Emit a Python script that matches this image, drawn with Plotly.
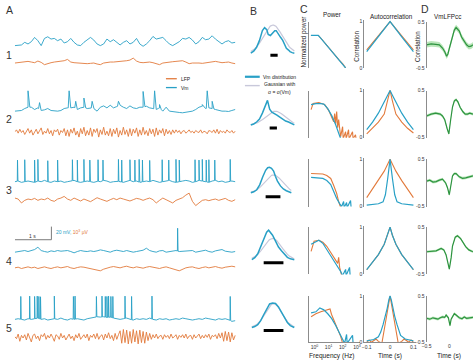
import numpy as np
import plotly.graph_objects as go

W, H = 474, 363
TEAL = "#28a0c6"
ORANGE = "#e27a3c"
GREEN = "#2e9440"
BAND = "rgba(140,214,140,0.6)"
GRAY_G = "#c8c8da"
AX = "#8c8c8c"
FONT = "Liberation Sans"

# ---------------- Panel A: traces (Vm in mV, LFP in uV) ----------------
DT = 0.09        # s, sample step of Vm / smooth LFP
DT_FAST = 0.045  # s, sample step of oscillating LFP

VM1 = [-69, -68.5, -68, -64, -66.5, -63, -56.5, -61.5, -69, -58, -55.5, -59, -58, -61.5, -59, -65, -63, -58,
       -64, -68, -69, -64, -60, -56.5, -60.5, -66.5, -69, -66.5, -59, -63, -60, -64, -68, -64, -61.5, -66.5,
       -64, -58, -66.5, -70, -66.5, -61.5, -55, -59, -58, -56.5, -61.5, -66.5, -69, -65.5, -63, -58, -59,
       -56.5, -60.5, -66.5, -63, -56.5, -60, -59, -54, -59, -63, -66.5, -63, -61.5, -65, -64]
LFP1 = [-25, 0, 50, 75, 100, 50, 0, 125, 25, -150, -50, 0, 50, 75, 100, 150, 250, 50, 0, -25, -50, -75, -75,
        -50, -25, -100, -150, -25, 25, 50, 50, 75, 50, 100, 150, 200, 350, 125, 25, 0, 25, 50, 0, -75, -150,
        -25, 25, 50, 75, 100, 125, 150, 50, -75, -25, 0, -25, -50, 0, 50, 75, 100, 50, 0, 25, 50, -25, -75]

VM2 = [-65, -65, -64, -61, -59, -59, -62.5, -60, -64, -63, -61, -64, -65, -65, -64, -61, -60, -60, -59, -62.5,
       -60, -59, -61, -60, -61, -65, -59, -57, -60, -56, -60, -58, -56, -59, -61, -57, -60, -61, -59, -59,
       -57.5, -60, -61, -62.5, -60, -65, -59, -65, -66, -66.5, -67, -67.5, -67, -66.5, -65, -62.5, -59,
       -57.5, -61, -60, -61, -62.5, -64, -65, -65, -65.5, -64, -62.5]
VM2_EVENT_T = [0.36, 0.675, 1.485, 1.665, 1.89, 2.115, 2.835, 3.51, 3.825, 3.96, 5.13, 5.265, 5.4]
VM2_EVENT_PEAK = [-34, -52, -34, -50, -45, -50, -50, -35, -34, -55, -55, -34, -50]
LFP2 = [0, 150, -100, 200, -50, 100, -200, 50, 250, -100, 150, -250, 0, 200, -150, 100, 300, -200, 50, -100,
        250, -150, 100, -300, 150, 0, 200, -250, 100, -50,
        250, -300, 150, -350, 200, -100, 300, -250, 50, -400, 250, -150, 350, -300, 100, -250, 300, -350,
        200, -50, 250, -400, 150, -200, 350, -250, 50, -300, 250, -350, 200, -150, 300, -400, 100, -250,
        350, -200, 150, -350, 250, -300, 200, -100, 300, -350, 150, -250, 350, -200, 100, -300, 250, -150,
        200, -350, 300, -250, 150, -100, 250, -300, 200, -150, 100, -200, 150,
        -100, 150, -50, 100, -150, 50, 100, -100, 0, 150, -50, 50, -100, 100, 0, -50, 150, -100, 50, 0,
        -150, 100, 50, -50, 150, -100, 200, -150, 100, -50, 50, -100, 150, 0, -50, 100, -100, 50]

VM3 = [-65, -64, -66, -65, -64, -65, -66, -64, -65, -63, -65, -66, -64, -65, -64, -66, -65, -64, -63, -65,
       -66, -65, -64, -65, -66, -64, -65, -63, -64, -66, -65, -64, -65, -66, -64, -63, -65, -64, -66, -65,
       -64, -65, -63, -64, -66, -65, -64, -63, -65, -66, -65, -64, -63, -64, -66, -65, -63, -64, -65, -66,
       -64, -63, -65, -64, -66, -65, -64, -65]
VM3_SPIKE_T = [0.072, 0.27, 0.54, 0.63, 0.9, 1.17, 1.575, 1.71, 1.89, 2.052, 2.277, 2.412, 2.835, 2.925,
               3.15, 3.285, 3.402, 3.492, 3.69, 4.032, 4.212, 4.41, 4.5, 4.932, 5.04, 5.13, 5.238, 5.31,
               5.472, 5.895]
VM3_SPIKE_PEAK = [-32, -31.5, -32, -31, -33, -32, -31.5, -32, -31, -32, -31.5, -32, -31, -32, -31.5, -32,
                  -31, -32, -32.5, -31.5, -32, -31, -32, -31.5, -32, -31, -32, -31.5, -32, -31]
LFP3 = [125, 50, -250, -50, 50, 0, 100, -50, 50, 0, 125, -50, -125, 50, 125, 250, 50, -50, 125, 0, -100, 50,
        -50, -150, 0, 150, 50, -50, -125, 0, 100, 0, 125, 50, -50, -100, 0, 100, 50, -50, 50, 125, 0, -250,
        -50, 125, 0, -125, -250, -50, 50, 150, 350, 500, -125, -450, -250, -50, 0, -75, 0, 50, -50, 0, 100,
        -50, -125, 0]

VM4 = [-66, -65, -64, -63.5, -65, -64, -62, -58.5, -63.5, -65, -66, -64, -65, -63.5, -64.5, -64, -63.5, -65,
       -67, -65, -63.5, -64.5, -65, -64, -65, -64, -62.5, -63.5, -65, -66, -64, -63, -64, -65, -63.5, -64.5,
       -66, -65, -64, -63, -60, -63.5, -65, -66, -64, -63.5, -66, -65, -64, -63.5, -65, -64.5, -65, -64,
       -63.5, -66, -65, -64, -63, -65, -66, -64, -63.5, -62, -64.5, -65, -66, -65]
VM4_SPIKE_T = [4.455]
VM4_SPIKE_PEAK = [-29.5]
LFP4 = [0, 50, -50, 0, 75, 0, 50, -50, 25, 75, 0, -50, 25, 75, 0, 50, 100, 0, -50, 25, 75, 50, 0, -50, -100,
        -175, -225, -100, 0, 50, 100, 50, 0, 75, 125, 50, 0, 75, 25, -25, 50, 100, 50, 0, -50, 25, 75, 0,
        -50, -150, -225, -100, 0, 50, 75, 0, -50, 25, 75, 0, 50, 100, 25, -25, 50, 100, 125, 75]

VM5 = [-65, -64, -65, -66, -64, -65, -64, -63, -65, -64, -66, -65, -64, -65, -63, -65, -66, -64, -65, -64,
       -65, -66, -64, -63, -62, -61, -61.5, -61, -62, -61.5, -63, -64, -65, -64, -63, -65, -66, -64, -65,
       -64, -65, -63, -65, -66, -64, -65, -64, -66, -65, -64, -65, -63, -64, -65, -66, -65, -64, -65, -63,
       -64, -65, -66, -64, -65, -64, -65, -68, -67]
VM5_SPIKE_T = [0.162, 0.405, 0.54, 0.612, 0.657, 0.702, 1.08, 1.602, 1.647, 2.232, 2.385, 2.475, 2.52,
               2.565, 2.628, 2.682, 3.015, 3.195, 3.753, 5.895]
VM5_SPIKE_PEAK = [-30, -29.5, -30, -29.5, -30, -30.5, -29.5, -30, -29.5, -30, -29.5, -30, -30, -29.5, -30,
                  -30, -29.5, -30, -29.5, -30]
LFP5 = [0, -150, 200, -350, 100, -100, 150, -250, 250, -50, -400, 100, 200, -150, 50, -300, 150, 0, 250, -200,
        100, -100, 200, -50, -350, 150, 50, -200, 250, -100, 100, -250, 0, 200, -150, 50, -300, 150, -100, 250,
        -200, 0, 150, -100, 200, -300, 100, -50, 200, -150, 250, -200, 50, 150, -250, 200, -100, 300, -150,
        100, -300, 250, -200, 150,
        450, -500, 550, -450, 500, -550, 400, -500, 550, -400, 450, -550, 500, -450, 400, -500, 350, -300, 250,
        -200, 150, -100, 200, -150, 50, 100, -200, 150, -50, 100, -150, 200, -100, 0, 150, -200, 100, -50, 150,
        -100, 200, -150, 50, 100, -200, 150, -100, 50, 200, -150, 100, -100, 150, -50, 200, -200, 100, 0, 150,
        -150, 250, -100,
        300, -350, 400, -300, 350, -400, 300, -250, 100]

SCALE_T = 1.0      # s
SCALE_MV = 20.0    # mV

# ---------------- Panel B: Vm distributions ----------------
B_BINS = [
    [-72, -70, -68, -66, -64, -62.5, -61, -60, -58.5, -57, -55.5, -54.5, -53, -51.5, -50, -49, -47.5, -46, -45, -43.5, -42],
    [-72, -70, -68, -66, -64, -62.5, -61, -60.5, -60, -59, -57.5, -56, -54, -52, -50, -48, -46, -44, -42],
    [-72, -71, -70, -69, -68, -67, -66.3, -65.7, -65, -64.3, -63.7, -63, -62, -61, -60, -59, -58.3],
    [-70, -69.25, -68.5, -67.75, -67, -66.25, -65.75, -65.25, -64.75, -64, -63.25, -62.5, -61.75, -61, -60.25, -59.25],
    [-70, -69.25, -68.5, -67.75, -67, -66.25, -65.5, -64.75, -64, -63.25, -62.5, -61.75, -61, -60.25, -59.25],
]
B_DENS = [
    [0, 0.08, 0.23, 0.5, 0.88, 1.0, 0.92, 0.73, 0.69, 0.81, 0.88, 0.88, 0.73, 0.62, 0.5, 0.38, 0.19, 0.12, 0.06, 0.02, 0],
    [0, 0.04, 0.12, 0.24, 0.48, 0.72, 0.96, 1.0, 0.88, 0.64, 0.52, 0.48, 0.4, 0.32, 0.24, 0.16, 0.12, 0.06, 0],
    [0, 0.04, 0.12, 0.31, 0.62, 0.88, 0.98, 1.0, 0.96, 0.85, 0.65, 0.46, 0.27, 0.15, 0.08, 0.02, 0],
    [0, 0.07, 0.2, 0.43, 0.7, 0.93, 1.0, 0.93, 0.83, 0.63, 0.43, 0.3, 0.17, 0.08, 0.03, 0],
    [0, 0.04, 0.12, 0.28, 0.52, 0.76, 0.96, 1.0, 0.98, 0.84, 0.64, 0.4, 0.2, 0.08, 0],
]
B_GAUSS_MU = [-56.7, -55, -64.3, -64.75, -64.5]
B_GAUSS_SD = [6.5, 6.5, 3.0, 2.25, 2.1]
B_GAUSS_AMP = [1.1, 0.56, 0.7, 0.72, 0.97]
B_XRANGE = [[-74, -40], [-74, -40], [-73, -56.3], [-71, -58.5], [-71, -58.5]]
B_BAR = [[-58.5, -53.5], [-59, -54], [-67, -62], [-67, -62], [-67, -62]]   # 5 mV bars
B_BAR_LEVEL = [-0.08, -0.12, -0.15, -0.1, -0.12]

# ---------------- Panel C: power (log10 Hz, log10 normalized power) ----------------
P_VM_F = [
    [-0.25, 0, 0.27, 0.5, 0.75, 1.0, 1.25, 1.5, 1.75, 2.0, 2.2],
    [-0.24, 0.1, 0.45, 0.66, 0.94, 1.22, 1.5, 1.71, 1.85],
    [-0.24, 0.17, 0.59, 0.87, 1.15, 1.36, 1.57, 1.78, 1.92, 2.06, 2.1, 2.27, 2.31, 2.55, 2.59],
    [-0.24, 0.1, 0.31, 0.59, 1.01, 1.43, 1.85, 1.99, 2.2, 2.24, 2.48, 2.52],
    [-0.24, 0.1, 0.38, 0.66, 0.94, 1.22, 1.5, 1.78, 1.99, 2.13, 2.27, 2.31, 2.69, 2.73],
]
P_VM = [
    [0, 0, 0, -0.38, -0.82, -1.22, -1.68, -2.06, -2.52, -2.9, -3.3],
    [0, 0.1, 0.1, 0.05, -0.4, -1.1, -2.0, -2.8, -3.4],
    [-0.4, -0.45, -0.5, -0.7, -1.1, -1.8, -2.5, -3.0, -3.3, -2.8, -3.4, -2.9, -3.4, -2.7, -3.4],
    [-0.3, 0, 0.1, -0.2, -1.1, -2.1, -3.0, -3.4, -2.8, -3.4, -2.6, -3.4],
    [-0.3, -0.2, 0.2, 0.0, -0.4, -0.9, -1.6, -2.4, -3.0, -3.4, -2.5, -3.4, -2.6, -3.4],
]
P_LFP_F = [
    [-0.25, 0, 0.27, 0.5, 0.75, 1.0, 1.25, 1.5, 1.75, 2.0, 2.2],
    [-0.24, -0.1, 0.31, 0.73, 1.01, 1.22, 1.36, 1.43, 1.5, 1.57, 1.64, 1.71, 1.78, 1.85, 1.99, 2.03, 2.2, 2.24,
     2.41, 2.45, 2.69, 2.73, 2.9, 2.94],
    [-0.24, 0.17, 0.59, 0.87, 1.15, 1.36, 1.57, 1.71, 1.85],
    [-0.24, -0.03, 0.31, 0.59, 0.87, 1.15, 1.43, 1.64, 1.71, 1.78, 1.92],
    [-0.24, 0.1, 0.45, 0.8, 1.1, 1.2, 1.36, 1.64, 1.85, 1.99],
]
P_LFP = [
    [0, 0, 0, -0.36, -0.8, -1.2, -1.66, -2.04, -2.5, -2.88, -3.3],
    [-0.5, 0.1, 0.2, 0.0, -0.6, -1.2, -1.7, -0.9, -1.9, -0.7, -2.3, -1.5, -2.8, -3.2, -2.2, -3.4, -2.7, -3.4,
     -2.5, -3.4, -2.7, -3.4, -3.0, -3.4],
    [0, 0, -0.05, -0.2, -0.5, -1.2, -2.0, -2.8, -3.4],
    [-1.0, 0, 0.1, -0.1, -0.5, -1.1, -1.7, -2.2, -1.6, -2.6, -3.4],
    [-0.7, -0.4, -0.2, -0.05, 0.1, -0.45, -1.0, -1.9, -2.7, -3.4],
]
FREQ_TICKS = [0, 1, 2, 3]

# ---------------- Panel C: autocorrelation ----------------
AC_VM_LAG = [
    [-0.1, -0.05, 0, 0.05, 0.1],
    [-0.1, -0.075, -0.05, -0.025, -0.01, 0, 0.01, 0.025, 0.05, 0.075, 0.1],
    [-0.1, -0.05, -0.03, -0.02, -0.01, 0, 0.01, 0.02, 0.03, 0.05, 0.1],
    [-0.1, -0.075, -0.05, -0.025, -0.01, 0, 0.01, 0.025, 0.05, 0.075, 0.1],
    [-0.1, -0.085, -0.07, -0.05, -0.04, -0.03, -0.02, -0.012, -0.005, 0, 0.005, 0.012, 0.02, 0.03, 0.045,
     0.065, 0.085, 0.1],
]
AC_VM = [
    [0.35, 0.67, 1, 0.67, 0.35],
    [0.17, 0.33, 0.52, 0.75, 0.9, 1, 0.9, 0.75, 0.52, 0.33, 0.17],
    [0.03, 0.06, 0.1, 0.25, 0.6, 1, 0.6, 0.25, 0.1, 0.06, 0.03],
    [0.1, 0.25, 0.42, 0.64, 0.83, 1, 0.83, 0.64, 0.42, 0.25, 0.1],
    [0.03, 0.04, 0.06, 0.12, 0.22, 0.38, 0.56, 0.74, 0.92, 1, 0.92, 0.74, 0.56, 0.38, 0.15, 0.07, 0.04, 0.03],
]
AC_LFP_LAG = [
    [-0.1, -0.05, 0, 0.05, 0.1],
    [-0.1, -0.075, -0.05, -0.025, -0.01, 0, 0.01, 0.025, 0.05, 0.075, 0.1],
    [-0.1, -0.075, -0.05, -0.025, 0, 0.025, 0.05, 0.075, 0.1],
    [-0.1, -0.075, -0.05, -0.025, -0.01, 0, 0.01, 0.025, 0.05, 0.075, 0.1],
    [-0.1, -0.09, -0.08, -0.07, -0.06, -0.05, -0.035, 0, 0.035, 0.05, 0.06, 0.07, 0.08, 0.09, 0.1],
]
AC_LFP = [
    [0.39, 0.69, 1, 0.69, 0.39],
    [0.08, 0.2, 0.33, 0.5, 0.78, 1, 0.78, 0.5, 0.33, 0.2, 0.1],
    [0.19, 0.37, 0.55, 0.75, 1, 0.75, 0.55, 0.37, 0.19],
    [0.1, 0.25, 0.42, 0.64, 0.83, 1, 0.83, 0.64, 0.42, 0.25, 0.1],
    [0.0, 0.05, 0.0, 0.04, 0.07, 0.02, -0.02, 1, -0.02, 0.02, 0.07, 0.04, 0.0, 0.05, 0.0],
]
AC_TICKS = [-0.1, 0, 0.1]

# ---------------- Panel D: Vm-LFP cross-correlation ----------------
CC_LAG = [
    [-0.5, -0.4, -0.3, -0.22, -0.15, -0.1, -0.06, -0.03, 0, 0.035, 0.07, 0.11, 0.15, 0.19, 0.22, 0.27, 0.33, 0.38, 0.43, 0.48, 0.52],
    [-0.5, -0.4, -0.3, -0.2, -0.15, -0.1, -0.05, -0.01, 0.03, 0.07, 0.11, 0.15, 0.19, 0.24, 0.3, 0.35, 0.4, 0.45, 0.52],
    [-0.5, -0.43, -0.36, -0.29, -0.22, -0.15, -0.08, -0.04, 0, 0.04, 0.07, 0.11, 0.15, 0.22, 0.29, 0.36, 0.43, 0.52],
    [-0.5, -0.4, -0.29, -0.18, -0.12, -0.07, -0.03, 0, 0.04, 0.07, 0.13, 0.18, 0.25, 0.3, 0.36, 0.43, 0.52],
    [-0.5, -0.43, -0.36, -0.3, -0.25, -0.2, -0.15, -0.1, -0.07, -0.02, 0.015, 0.04, 0.08, 0.11, 0.15, 0.22, 0.28, 0.33, 0.38, 0.43, 0.52],
]
CC = [
    [0.0, 0.02, 0.01, 0.0, -0.07, -0.15, -0.25, -0.2, -0.08, 0.06, 0.2, 0.32, 0.375, 0.34, 0.3, 0.17, 0.06, 0.0, -0.04, -0.03, 0.0],
    [-0.04, 0.0, 0.02, 0.0, -0.04, -0.12, -0.3, -0.42, -0.12, 0.15, 0.28, 0.31, 0.26, 0.14, 0.05, 0.0, 0.0, 0.02, 0.0],
    [0.04, 0.06, 0.02, 0.03, 0.06, 0.08, 0.0, -0.1, -0.25, -0.05, 0.15, 0.2, 0.2, 0.13, 0.1, 0.11, 0.13, 0.15],
    [-0.02, -0.01, 0.0, 0.05, 0.02, -0.09, -0.25, -0.39, -0.15, 0.1, 0.29, 0.32, 0.26, 0.17, 0.09, 0.02, -0.02],
    [0.02, 0.0, 0.03, 0.01, 0.0, 0.03, 0.05, 0.04, 0.09, 0.03, -0.14, 0.0, 0.06, 0.12, 0.09, 0.03, 0.01, 0.05, 0.02, 0.03, 0.04],
]
CC_SEM = [0.06, 0.03, 0.03, 0.025, 0.03]
CC_TICKS = [-0.5, 0]

# ======================================================================
def xd(a, b):
    return [max(0.0, a / W), min(1.0, b / W)]


def yd(top, bot):
    return [max(0.0, 1 - bot / H), min(1.0, 1 - top / H)]


layout = dict(width=W, height=H, margin=dict(l=0, r=0, t=0, b=0), paper_bgcolor="white",
              plot_bgcolor="rgba(0,0,0,0)", showlegend=False,
              font=dict(family=FONT, size=6, color="#222"), annotations=[], shapes=[])
traces = []
_n = [0]


def new_axes(xdom, ydom, xr, yr, xopts=None, yopts=None):
    _n[0] += 1
    s = "" if _n[0] == 1 else str(_n[0])
    xa = dict(domain=xdom, range=xr, visible=False, fixedrange=True, anchor="y" + s,
              showgrid=False, zeroline=False)
    ya = dict(domain=ydom, range=yr, visible=False, fixedrange=True, anchor="x" + s,
              showgrid=False, zeroline=False)
    if xopts:
        xa.update(xopts)
    if yopts:
        ya.update(yopts)
    layout["xaxis" + s] = xa
    layout["yaxis" + s] = ya
    return "x" + s, "y" + s


def line(x, y, ax, color, width=1.0, **kw):
    traces.append(go.Scatter(x=list(x), y=list(y), mode="lines", xaxis=ax[0], yaxis=ax[1],
                             line=dict(color=color, width=width), hoverinfo="skip", **kw))


def ann(text, x, y, size=6, color="#222", xanchor="center", yanchor="middle", angle=0):
    layout["annotations"].append(dict(text=text, x=x / W, y=1 - y / H, xref="paper", yref="paper",
                                      showarrow=False, font=dict(size=size, color=color, family=FONT),
                                      xanchor=xanchor, yanchor=yanchor, textangle=angle))


def seg(x0, y0, x1, y1, color, width):
    layout["shapes"].append(dict(type="line", xref="paper", yref="paper", x0=x0 / W, x1=x1 / W,
                                 y0=1 - y0 / H, y1=1 - y1 / H, line=dict(color=color, width=width)))


def with_events(v, dt, ev_t, ev_pk, rise, fall):
    t = np.arange(len(v)) * dt
    v = np.asarray(v, float)
    tt, vv = list(t), list(v)
    for te, pk in zip(ev_t, ev_pk):
        tt += [te - rise, te, te + fall]
        vv += [np.interp(te - rise, t, v), pk, np.interp(te + fall, t, v)]
    o = np.argsort(tt, kind="stable")
    return np.array(tt)[o], np.array(vv)[o]


# ---- Panel A ----
PX_PER_S = 37.0
A_X0, A_X1 = 10, 240
A_XR = [0, (A_X1 - A_X0) / PX_PER_S]
MV_PER_PX = 1.5
UV_PER_PX = 75.0

rows_vm = [
    (VM1, [], [], 44.0, -70, 0, 0),
    (VM2, VM2_EVENT_T, VM2_EVENT_PEAK, 113.3, -70, 0.025, 0.05),
    (VM3, VM3_SPIKE_T, VM3_SPIKE_PEAK, 181.7, -65, 0.006, 0.012),
    (VM4, VM4_SPIKE_T, VM4_SPIKE_PEAK, 252.7, -65, 0.006, 0.012),
    (VM5, VM5_SPIKE_T, VM5_SPIKE_PEAK, 321.7, -65, 0.006, 0.012),
]
rows_lfp = [(LFP1, DT, 60.7), (LFP2, DT_FAST, 131.0), (LFP3, DT, 200.0), (LFP4, DT, 269.3), (LFP5, DT_FAST, 339.3)]

for vm, et, ep, ypx, vref, rise, fall in rows_vm:
    ax = new_axes(xd(A_X0, A_X1), yd(ypx - 36, ypx + 12), A_XR,
                  [vref - 12 * MV_PER_PX, vref + 36 * MV_PER_PX])
    t, v = with_events(vm, DT, et, ep, rise, fall)
    line(t, v, ax, TEAL, 0.9)

for lfp, dt, ypx in rows_lfp:
    ax = new_axes(xd(A_X0, A_X1), yd(ypx - 16, ypx + 16), A_XR, [-16 * UV_PER_PX, 16 * UV_PER_PX])
    line(np.arange(len(lfp)) * dt, lfp, ax, ORANGE, 0.9)

# scale bar (same time / voltage scale as traces)
sb_y0 = 240.7
ax = new_axes(xd(A_X0, A_X1), yd(222, 246), A_XR, [-(246 - sb_y0) * MV_PER_PX, (sb_y0 - 222) * MV_PER_PX])
line([0, SCALE_T, SCALE_T], [0, 0, SCALE_MV], ax, "#7a7a7a", 1.0)
ann("1 s", 28, 236.5, size=5, color="#333")
ann("<span style='color:%s'>20 mV, </span><span style='color:%s'>10<sup>3</sup> µV</span>" % (TEAL, ORANGE),
    50, 233, size=5, xanchor="left")

# legend A
seg(163, 77, 174, 77, ORANGE, 1.3)
seg(163, 86, 174, 86, TEAL, 1.3)
ann("LFP", 176, 77, size=5, xanchor="left")
ann("Vm", 176, 86, size=5, xanchor="left")

# row numbers and panel letters
for i, yy in enumerate([53, 118, 190, 262, 330]):
    ann(str(i + 1), 4.5, yy, size=10.5, color="#333")
ann("A", 5, 7, size=10.5, color="#333")
ann("B", 252, 8, size=10.5, color="#333")
ann("C", 303, 6, size=10.5, color="#333")
ann("D", 425, 6, size=10.5, color="#333")

# ---- Panel B ----
B_BASE = [51, 124, 193, 261, 330]
B_HGT = [26, 25, 26, 30, 25]
for i in range(5):
    b, h = B_BASE[i], B_HGT[i]
    ax = new_axes(xd(246, 296), yd(b - 1.2 * h, b + 0.3 * h), B_XRANGE[i], [-0.3, 1.2])
    gx = np.linspace(B_BINS[i][0], B_BINS[i][-1], 60)
    gy = B_GAUSS_AMP[i] * np.exp(-(gx - B_GAUSS_MU[i]) ** 2 / (2 * B_GAUSS_SD[i] ** 2))
    line(gx, gy, ax, GRAY_G, 1.2)
    line(B_BINS[i], B_DENS[i], ax, TEAL, 1.5)
    line(B_BAR[i], [B_BAR_LEVEL[i]] * 2, ax, "black", 3)

seg(243, 75, 258, 75, TEAL, 2.2)
ann("Vm distribution", 259, 75, size=5, xanchor="left")
seg(243, 84, 258, 84, GRAY_G, 1.4)
ann("Gaussian with", 260, 82.5, size=5, xanchor="left")
ann("σ = σ(Vm)", 264, 91, size=5, xanchor="left")

# ---- Panel C / D axes ----
TOPS = [19, 89, 159, 228, 298]
BOTS = [66, 137, 207, 276, 345]
tickfont = dict(size=5, color="#333", family=FONT)
yline = dict(visible=True, showline=True, linecolor=AX, linewidth=1, ticks="", showticklabels=False)

for i in range(5):
    last = i == 4
    top, bot = TOPS[i], BOTS[i]
    # power
    xo = dict(visible=True, showline=True, linecolor=AX, linewidth=1, ticks="",
              tickvals=FREQ_TICKS, ticktext=["10<sup>%d</sup>" % k for k in FREQ_TICKS],
              tickfont=tickfont) if last else None
    ax = new_axes(xd(308, 360), yd(top, bot), [-0.38, 3.25], [-3.3, 1.4], xopts=xo, yopts=dict(yline))
    line(P_LFP_F[i], P_LFP[i], ax, ORANGE, 1.1)
    line(P_VM_F[i], P_VM[i], ax, TEAL, 1.2)
    # autocorrelation
    xo = dict(visible=True, showline=True, linecolor=AX, linewidth=1, ticks="",
              tickvals=AC_TICKS, tickfont=tickfont) if last else None
    yo = dict(yline, showticklabels=True, tickvals=[0, 1], tickfont=tickfont)
    ax = new_axes(xd(364, 416), yd(top - 1.5, bot), [-0.11, 0.11], [0, 1.03], xopts=xo, yopts=yo)
    line(AC_LFP_LAG[i], AC_LFP[i], ax, ORANGE, 1.1)
    line(AC_VM_LAG[i], AC_VM[i], ax, TEAL, 1.2)
    # cross-correlation
    xo = dict(visible=True, showline=False, ticks="", tickvals=CC_TICKS, tickfont=tickfont) if last else None
    yo = dict(yline, showticklabels=True, tickvals=[-0.5, 0.5], ticktext=["-0.5", "0.5"], tickfont=tickfont)
    ax = new_axes(xd(427, 474), yd(top, bot), [-0.5, 0.5217], [-0.502, 0.502], xopts=xo, yopts=yo)
    lag = np.array(CC_LAG[i])
    cc = np.array(CC[i])
    line(lag, cc + CC_SEM[i], ax, "rgba(0,0,0,0)", 0)
    traces.append(go.Scatter(x=lag, y=cc - CC_SEM[i], mode="lines", fill="tonexty", fillcolor=BAND,
                             line=dict(width=0, color="rgba(0,0,0,0)"), xaxis=ax[0], yaxis=ax[1],
                             hoverinfo="skip"))
    line(lag, cc, ax, GREEN, 1.2)

# column headers and axis titles
ann("Power", 331, 12, size=6.3)
ann("Autocorrelation", 391, 14, size=6.3)
ann("VmLFPcc", 448, 14, size=6.3)
ann("Normalized power", 303, 40, size=6.3, angle=-90)
ann("Correlation", 356, 44, size=6.3, angle=-90)
ann("Correlation", 418, 44, size=6.3, angle=-90)
ann("Frequency (Hz)", 331, 358.5, size=6.6)
ann("Time (s)", 390, 358.5, size=6.6)
ann("Time (s)", 450, 358.5, size=6.6)

fig = go.Figure(data=traces)
fig.update_layout(**layout)
fig.write_html("out.html", config={"displayModeBar": False, "staticPlot": True},
               post_script="document.body.style.margin='0px';document.body.style.overflow='hidden';")
